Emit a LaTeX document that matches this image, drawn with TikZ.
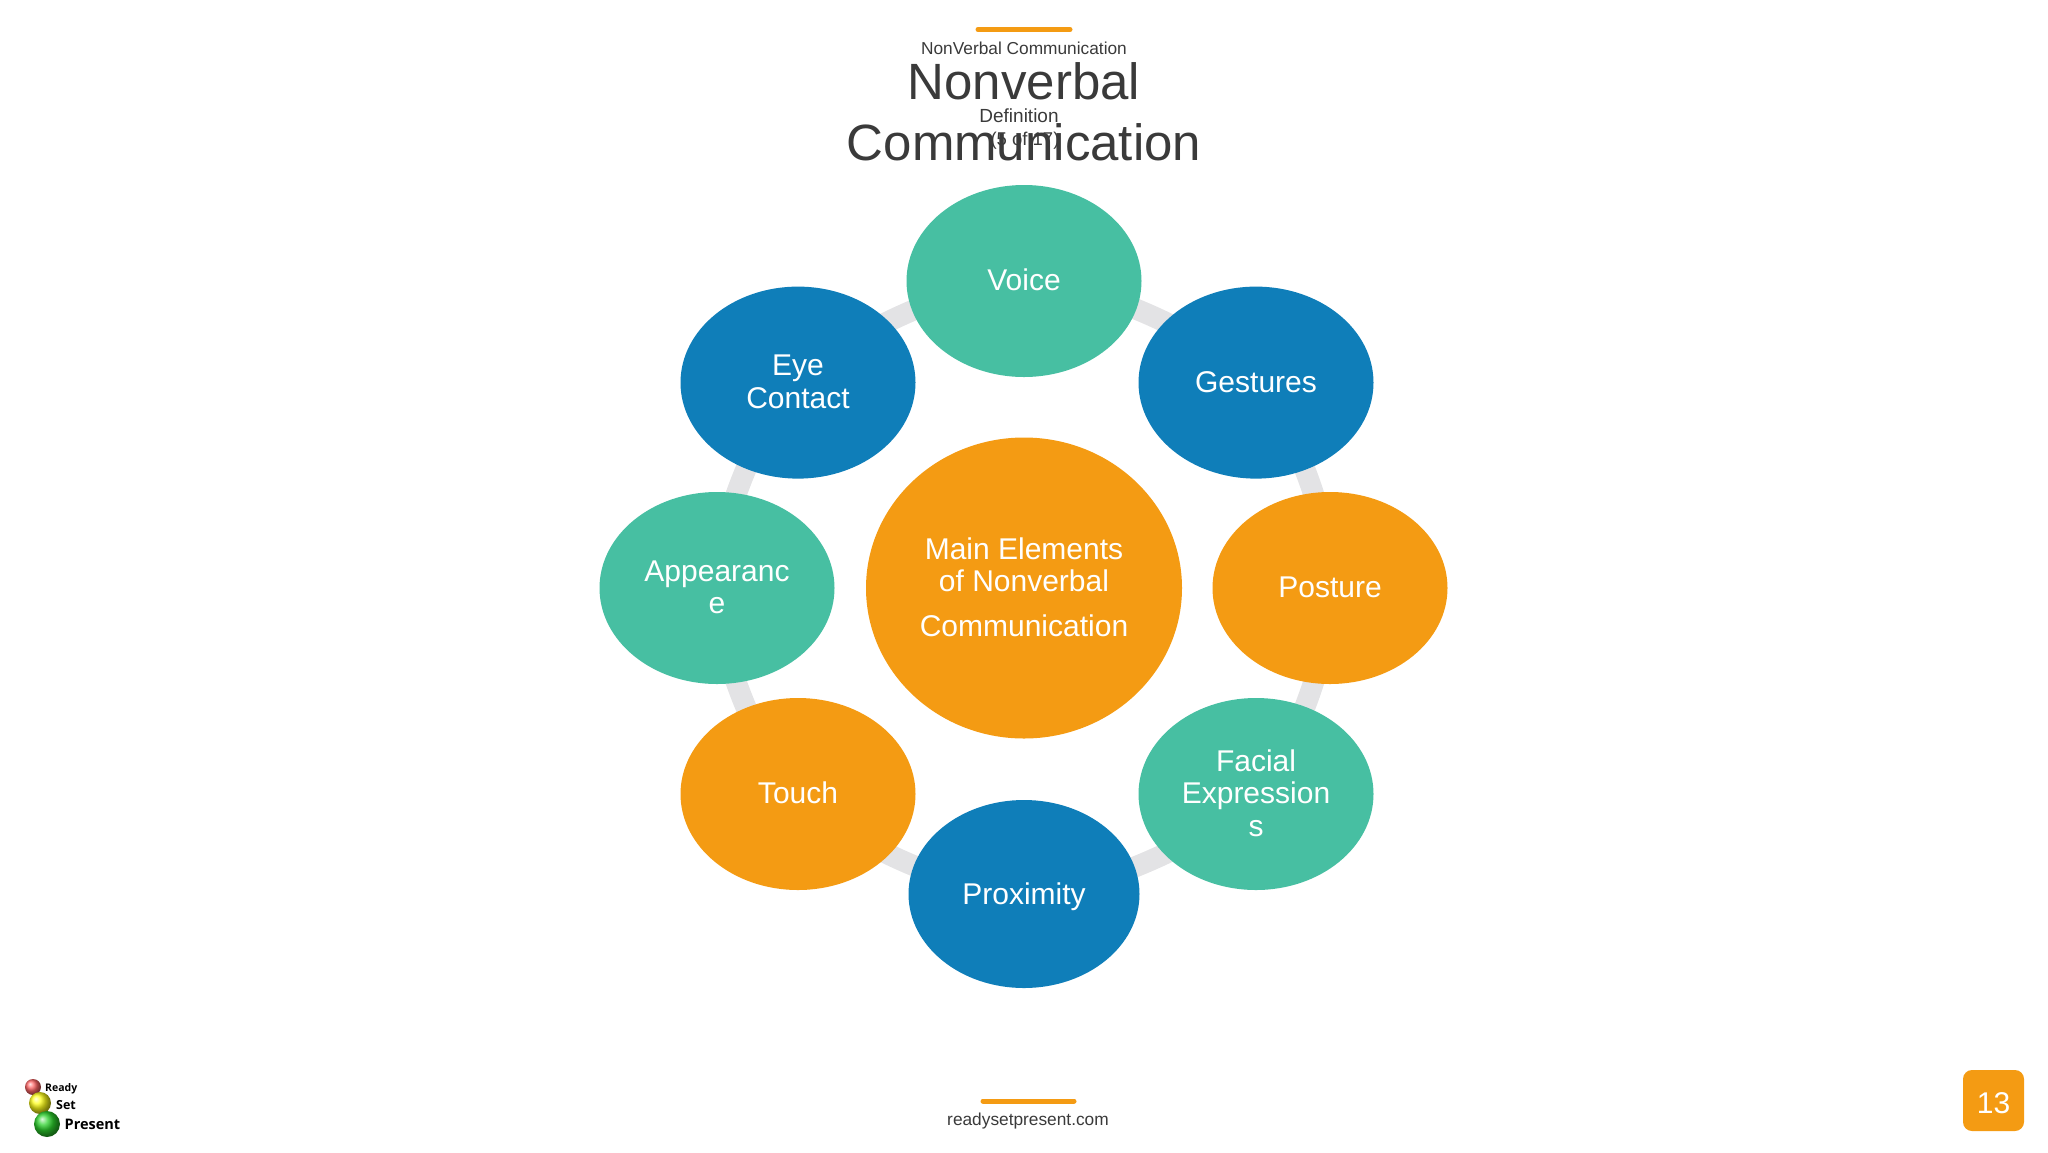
\documentclass[tikz,border=0pt]{standalone}
\usepackage{fontspec}
\setmainfont{Liberation Sans}
\newfontfamily\logofont{Open Sans}
\usetikzlibrary{shapes.geometric,backgrounds}
\definecolor{barorange}{HTML}{F49B13}
\definecolor{leafteal}{HTML}{47BFA2}
\definecolor{leafblue}{HTML}{0F7EB9}
\definecolor{ringgray}{HTML}{E3E3E5}
\definecolor{inkgray}{HTML}{3A3A3A}
\newcommand{\fsz}[2]{\fontsize{#1}{#2}\selectfont}
\begin{document}
\begin{tikzpicture}[x=1pt, y=-1pt,
    leaf/.style={ellipse, inner sep=0pt, minimum width=235pt, minimum height=192pt, text=white, text depth=2pt, align=center, font=\fsz{30}{32.6}},
    ringseg/.style={draw=ringgray, line width=21pt, bend left=22.5, looseness=.68},
    bar/.style={draw=barorange, line width=5pt, line cap=round},
    small/.style={text=inkgray, font=\fsz{17.3}{20}, anchor=base, inner sep=0pt},
    logotxt/.style={anchor=base west, inner sep=0pt, text=black, font=\logofont\bfseries}]
  \useasboundingbox (0,0) rectangle (2048,1152);
  % header
  \coordinate (barA) at (978,29.5); \coordinate (barB) at (1070,29.5);
  \draw[bar] (barA)--(barB);
  \node[small] (subtitle) at (1024,54) {NonVerbal Communication};
  \node[small, font=\fsz{19}{22}] (defn) at (1019,122.7) {Definition};
  \node[small, font=\fsz{18.5}{22}] (count) at (1025,145) {(5 of 17)};
  \node[anchor=base, inner sep=0pt, text=inkgray, font=\fsz{51}{61}] (title1) at (1024,99.5) {Nonverbal};
  \node[anchor=base, inner sep=0pt, text=inkgray, font=\fsz{51}{61}] (title2) at (1024,160.7) {Communication};
  % hub and leaves
  \node[leaf, fill=barorange, minimum width=316pt, minimum height=301pt] (hub) at (1024,588)
    {Main Elements\\of Nonverbal\\[12pt]Communication};
  \foreach \p/\x/\y/\col/\txt in {
      voice/1024/281/leafteal/Voice,
      gestures/1256/382.6/leafblue/Gestures,
      posture/1330/588/barorange/Posture,
      facial/1256/794/leafteal/{Facial\\Expression\\s},
      touch/798/794/barorange/Touch,
      appearance/717/588/leafteal/{Appearanc\\e},
      eye/798/382.6/leafblue/{Eye\\Contact}}
    \node[leaf, fill=\col] (\p) at (\x,\y) {\txt};
  \node[leaf, fill=leafblue, minimum width=231pt, minimum height=188pt, text depth=0pt] (proximity) at (1024,894) {Proximity};
  \begin{scope}[on background layer]
    \foreach \a/\b in {voice/gestures,gestures/posture,posture/facial,facial/proximity,proximity/touch,touch/appearance,appearance/eye,eye/voice}
      \draw[ringseg] (\a.center) to (\b.center);
  \end{scope}
  % footer
  \coordinate (barC) at (983,1101); \coordinate (barD) at (1074,1101);
  \draw[bar] (barC)--(barD);
  \node[small] (site) at (1028,1125) {readysetpresent.com};
  \node[fill=barorange, rounded corners=9pt, inner sep=0pt, minimum size=61pt, text=white, text height=26pt, text depth=0pt, font=\fsz{30}{34}] (page) at (1993.5,1100.5) {13};
  % logo
  \shade[ball color=red!60!white] (33,1087) circle (8);
  \shade[ball color=yellow!90!white] (40,1103) circle (11);
  \shade[ball color=green!65!gray] (47,1124) circle (13);
  \node[logotxt, font=\logofont\bfseries\fsz{10.5}{12}] (ready) at (45,1091) {Ready};
  \node[logotxt, font=\logofont\bfseries\fsz{12.5}{14}] (set) at (56,1109) {Set};
  \node[logotxt, font=\logofont\bfseries\fsz{14.5}{18}] (present) at (64.5,1129) {Present};
\end{tikzpicture}
\end{document}
